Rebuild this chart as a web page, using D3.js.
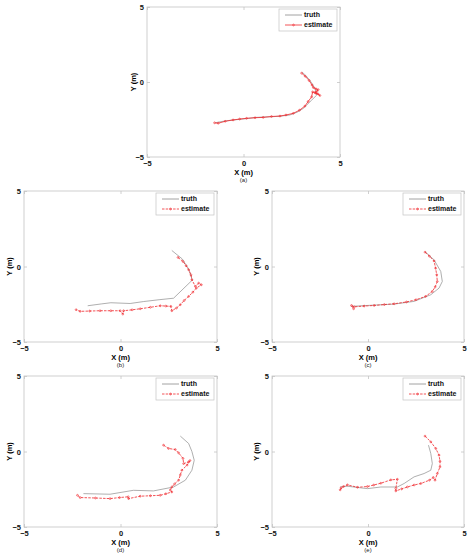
<!DOCTYPE html>
<html><head><meta charset="utf-8">
<script src="https://cdn.jsdelivr.net/npm/d3@7"></script>
<style>
body{margin:0;background:#fff;}
svg{display:block;font-family:"Liberation Sans",Arial,sans-serif;}
</style></head>
<body><svg id="c" width="474" height="558"></svg>
<script>
// ---- data ----
const panelIds = ["a","b","c","d","e"];
const xTicks = [-5, 0, 5];
const yTicks = [-5, 0, 5];
const legendLabels = ["truth", "estimate"];

const truthA = [[3.04,0.66],[3.25,0.4],[3.44,0.11],[3.6,-0.2],[3.7,-0.44],[3.79,-0.88],[3.53,-1.21],[3.1,-1.76],[2.8,-2.0],[2.4,-2.2],[1.9,-2.28],[1.54,-2.31],[1.1,-2.33],[0.67,-2.36],[0.25,-2.43],[-0.19,-2.49],[-0.88,-2.58],[-1.44,-2.71]];
const estA = [[3.01,0.59],[3.2,0.38],[3.4,0.1],[3.55,-0.2],[3.62,-0.37],[3.75,-0.45],[3.87,-0.51],[3.8,-0.62],[3.7,-0.7],[3.85,-0.78],[3.96,-0.9],[3.75,-0.75],[3.58,-0.66],[3.53,-0.99],[3.35,-1.3],[3.18,-1.61],[2.9,-1.88],[2.58,-2.09],[2.2,-2.2],[1.89,-2.27],[1.45,-2.3],[1.02,-2.36],[0.6,-2.38],[0.16,-2.42],[-0.2,-2.47],[-0.54,-2.53],[-0.95,-2.62],[-1.31,-2.75],[-1.5,-2.72]];

const truthB = [[2.66,1.06],[3.2,0.5],[3.55,-0.2],[3.72,-0.9],[2.75,-2.1],[2.0,-2.2],[1.2,-2.32],[0.5,-2.45],[-0.5,-2.4],[-1.0,-2.48],[-1.7,-2.6]];
const estB = [[2.98,0.6],[3.24,0.33],[3.4,0.05],[3.53,-0.22],[3.65,-0.55],[3.7,-0.88],[3.88,-1.32],[4.05,-1.1],[4.19,-1.21],[3.93,-1.43],[3.75,-1.7],[3.53,-1.98],[3.3,-2.25],[3.1,-2.53],[2.9,-2.75],[2.66,-2.93],[2.61,-2.64],[2.35,-2.62],[2.06,-2.6],[1.55,-2.7],[1.02,-2.8],[0.6,-2.87],[0.16,-2.93],[0.12,-3.15],[-0.02,-2.93],[-0.5,-2.93],[-1.06,-2.93],[-1.6,-2.95],[-2.09,-2.97],[-2.3,-2.86]];

const truthC = [[2.97,0.99],[3.44,0.44],[3.79,-0.33],[3.87,-0.99],[3.7,-1.43],[3.27,-1.87],[2.4,-2.31],[1.36,-2.49],[-0.03,-2.58],[-0.89,-2.64]];
const estC = [[2.97,0.95],[3.2,0.68],[3.44,0.37],[3.52,-0.11],[3.58,-0.55],[3.61,-0.99],[3.5,-1.35],[3.35,-1.65],[3.0,-1.98],[2.5,-2.2],[2.0,-2.35],[1.36,-2.47],[0.85,-2.52],[0.32,-2.58],[-0.2,-2.62],[-0.72,-2.67],[-0.86,-2.58],[-0.75,-2.8]];

const truthD = [[3.1,1.02],[3.53,0.53],[3.7,0],[3.82,-0.58],[3.7,-1.24],[3.36,-1.9],[2.75,-2.35],[1.71,-2.61],[0.67,-2.57],[-0.54,-2.83],[-1.92,-2.79]];
const estD = [[2.23,0.42],[2.49,0.2],[2.84,0.13],[3.01,-0.09],[3.24,-0.46],[3.27,-0.8],[3.53,-0.69],[3.6,-0.6],[3.45,-0.9],[3.18,-1.24],[3.1,-1.55],[3.01,-1.9],[2.8,-2.15],[2.66,-2.35],[2.58,-2.55],[2.66,-2.68],[2.35,-2.8],[2.06,-2.9],[1.55,-2.93],[1.02,-2.96],[0.42,-3.12],[0.4,-3.0],[-0.05,-3.05],[-0.54,-3.12],[-1.3,-3.08],[-2.09,-3.05],[-2.23,-2.9]];

const truthE = [[3.15,0.42],[3.27,-0.13],[3.35,-0.8],[3.27,-1.24],[2.92,-1.46],[2.4,-1.68],[1.88,-2.12],[1.53,-2.35],[0.67,-2.35],[-0.03,-2.46],[-1.07,-2.3],[-1.45,-2.35]];
const estE = [[2.97,1.02],[3.27,0.64],[3.53,0.2],[3.7,-0.24],[3.75,-0.65],[3.75,-1.02],[3.61,-1.46],[3.49,-1.9],[3.4,-1.72],[3.2,-1.9],[2.75,-2.12],[2.4,-2.22],[2.05,-2.35],[1.75,-2.48],[1.45,-2.61],[1.45,-2.45],[1.53,-1.84],[1.19,-1.88],[0.67,-2.1],[0.3,-2.22],[-0.03,-2.32],[-0.55,-2.37],[-1.07,-2.21],[-1.28,-2.32],[-1.45,-2.54],[-1.4,-2.4]];

const truthSeries = [truthA, truthB, truthC, truthD, truthE];
const estSeries = [estA, estB, estC, estD, estE];

// ---- layout ----
const layout = [
  {l:147, r:340, t:7,   b:157, yl:133},
  {l:24,  r:217, t:191, b:342, yl:9},
  {l:272, r:464, t:191, b:342, yl:256},
  {l:24,  r:217, t:376, b:527, yl:9},
  {l:272, r:464, t:376, b:527, yl:256}
];

const svg = d3.select("#c");
const boxCol = "#c4c4c4";
const truthCol = "#8c8c8c";
const estCol = "#f0282d";

panelIds.forEach((id, i) => {
  const L = layout[i];
  const x = d3.scaleLinear().domain([-5,5]).range([L.l, L.r]);
  const y = d3.scaleLinear().domain([-5,5]).range([L.b, L.t]);
  const g = svg.append("g");

  g.append("rect").attr("x",L.l).attr("y",L.t).attr("width",L.r-L.l).attr("height",L.b-L.t)
    .attr("fill","#fff").attr("stroke",boxCol).attr("stroke-width",0.8);

  const ax = g.append("g").attr("transform",`translate(0,${L.b})`)
    .call(d3.axisBottom(x).tickValues(xTicks).tickSize(-3).tickPadding(4).tickFormat(d3.format("d")));
  const axT = g.append("g").attr("transform",`translate(0,${L.t})`)
    .call(d3.axisTop(x).tickValues(xTicks).tickSize(-3).tickFormat(""));
  const ay = g.append("g").attr("transform",`translate(${L.l},0)`)
    .call(d3.axisLeft(y).tickValues(yTicks).tickSize(-3).tickPadding(3).tickFormat(d3.format("d")));
  const ayR = g.append("g").attr("transform",`translate(${L.r},0)`)
    .call(d3.axisRight(y).tickValues(yTicks).tickSize(-3).tickFormat(""));
  [ax,axT,ay,ayR].forEach(a=>{
    a.select(".domain").remove();
    a.selectAll("line").attr("stroke",boxCol).attr("stroke-width",0.8);
    a.selectAll("text").attr("font-size",7.5).attr("font-weight","bold").attr("fill","#111");
  });
  ay.selectAll("text").attr("dy","0.35em");
  ax.selectAll("text").attr("dy","0.6em");

  g.append("text").attr("x",(L.l+L.r)/2).attr("y",L.b+18).attr("text-anchor","middle")
    .attr("font-size",7.5).attr("font-weight","bold").text("X (m)");
  g.append("text").attr("transform",`translate(${L.yl},${(L.t+L.b)/2}) rotate(-90)`)
    .attr("text-anchor","middle").attr("dy","0.35em")
    .attr("font-size",7.5).attr("font-weight","bold").text("Y (m)");
  g.append("text").attr("x",(L.l+L.r)/2).attr("y",L.b+25).attr("text-anchor","middle")
    .attr("font-size",6).attr("fill","#222").text(`(${id})`);

  const line = d3.line().x(d=>x(d[0])).y(d=>y(d[1]));
  g.append("path").datum(truthSeries[i]).attr("d",line).attr("fill","none")
    .attr("stroke", truthCol).attr("stroke-width",0.7);
  g.append("path").datum(estSeries[i]).attr("d",line).attr("fill","none")
    .attr("stroke", estCol).attr("stroke-width",0.8)
    .attr("stroke-dasharray", i===0 ? null : "2.5,1.2");
  g.selectAll(".m").data(estSeries[i]).enter().append("circle")
    .attr("cx",d=>x(d[0])).attr("cy",d=>y(d[1])).attr("r",0.9)
    .attr("fill","none").attr("stroke",estCol).attr("stroke-width",0.6);

  const lw = 58, lh = 22;
  const lx = L.r - 3 - lw, ly = L.t + 2;
  const lg = g.append("g");
  lg.append("rect").attr("x",lx).attr("y",ly).attr("width",lw).attr("height",lh)
    .attr("fill","#fff").attr("stroke",boxCol).attr("stroke-width",0.7);
  legendLabels.forEach((lab, k) => {
    const yy = ly + 6 + k*10;
    lg.append("line").attr("x1",lx+6).attr("x2",lx+23).attr("y1",yy).attr("y2",yy)
      .attr("stroke", k===0 ? truthCol : estCol).attr("stroke-width",0.8)
      .attr("stroke-dasharray", (k===1 && i>0) ? "2.5,1.2" : null);
    if (k===1) lg.append("circle").attr("cx",lx+14.5).attr("cy",yy).attr("r",0.9)
      .attr("fill","none").attr("stroke",estCol).attr("stroke-width",0.6);
    lg.append("text").attr("x",lx+25).attr("y",yy).attr("dy","0.35em")
      .attr("font-size",7).attr("font-weight","bold").attr("fill","#111").text(lab);
  });
});
</script></body></html>
